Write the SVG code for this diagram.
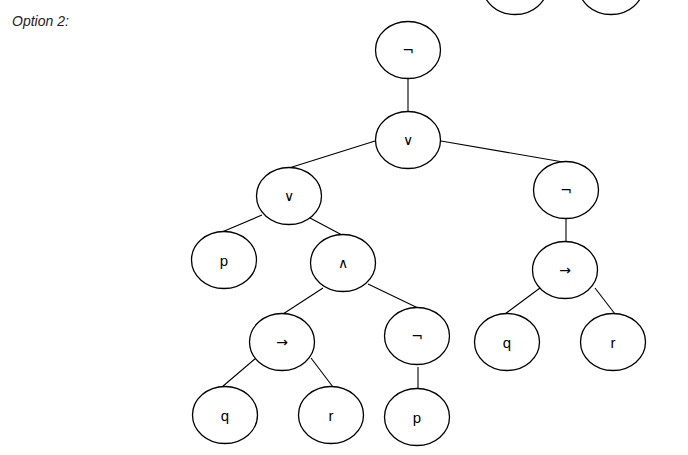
<svg xmlns="http://www.w3.org/2000/svg" width="688" height="455" viewBox="0 0 688 455">
<style>
.n ellipse{fill:#fff;stroke:#000;stroke-width:1.3}
.n text{font-family:"Liberation Sans",Arial,sans-serif;font-size:15px;text-anchor:middle;dominant-baseline:central;fill:#000}
.n text.s{font-family:"DejaVu Sans",sans-serif;font-size:14px}
#edges line{stroke:#000;stroke-width:1.1}
</style>
<rect width="688" height="455" fill="#fff"/>
<text x="12" y="26" font-family="Liberation Sans,Arial,sans-serif" font-size="14" font-style="italic" fill="#222">Option 2:</text>
<g id="edges">
<line x1="408" y1="78" x2="408" y2="111"/>
<line x1="375" y1="141" x2="289" y2="168"/>
<line x1="441" y1="141" x2="563" y2="162"/>
<line x1="262" y1="215" x2="222" y2="232"/>
<line x1="310" y1="218" x2="342" y2="235"/>
<line x1="323" y1="288" x2="283" y2="314"/>
<line x1="368" y1="284" x2="418" y2="308"/>
<line x1="256" y1="358" x2="222" y2="387"/>
<line x1="311" y1="358" x2="333" y2="387"/>
<line x1="418" y1="367" x2="418" y2="389"/>
<line x1="566" y1="218" x2="566" y2="242"/>
<line x1="540" y1="288" x2="505" y2="314"/>
<line x1="595" y1="288" x2="615" y2="314"/>
</g>
<g id="t1" class="n"><ellipse cx="515" cy="-14" rx="32.5" ry="28.5"/></g>
<g id="t2" class="n"><ellipse cx="611" cy="-14" rx="32.5" ry="28.5"/></g>
<g id="not1" class="n"><ellipse cx="408" cy="50" rx="32.5" ry="28.5"/><text class="s" x="408" y="50">¬</text></g>
<g id="or1" class="n"><ellipse cx="408" cy="140" rx="32.5" ry="28.5"/><text class="s" x="408" y="140">∨</text></g>
<g id="or2" class="n"><ellipse cx="289" cy="196" rx="32.5" ry="28.5"/><text class="s" x="289" y="196">∨</text></g>
<g id="not2" class="n"><ellipse cx="566" cy="190" rx="32.5" ry="28.5"/><text class="s" x="566" y="190">¬</text></g>
<g id="p1" class="n"><ellipse cx="224" cy="260" rx="32.5" ry="28.5"/><text x="224" y="260">p</text></g>
<g id="and1" class="n"><ellipse cx="343" cy="263" rx="32.5" ry="28.5"/><text class="s" x="343" y="263">∧</text></g>
<g id="imp2" class="n"><ellipse cx="565" cy="270" rx="32.5" ry="28.5"/><text class="s" x="565" y="270">→</text></g>
<g id="imp1" class="n"><ellipse cx="282" cy="342" rx="32.5" ry="28.5"/><text class="s" x="282" y="342">→</text></g>
<g id="not3" class="n"><ellipse cx="417" cy="336" rx="32.5" ry="28.5"/><text class="s" x="417" y="336">¬</text></g>
<g id="q2" class="n"><ellipse cx="507" cy="342" rx="32.5" ry="28.5"/><text x="507" y="342">q</text></g>
<g id="r2" class="n"><ellipse cx="613" cy="342" rx="32.5" ry="28.5"/><text x="613" y="342">r</text></g>
<g id="q1" class="n"><ellipse cx="225" cy="415" rx="32.5" ry="28.5"/><text x="225" y="415">q</text></g>
<g id="r1" class="n"><ellipse cx="331" cy="415" rx="32.5" ry="28.5"/><text x="331" y="415">r</text></g>
<g id="p2" class="n"><ellipse cx="417" cy="417" rx="32.5" ry="28.5"/><text x="417" y="417">p</text></g>
</svg>
